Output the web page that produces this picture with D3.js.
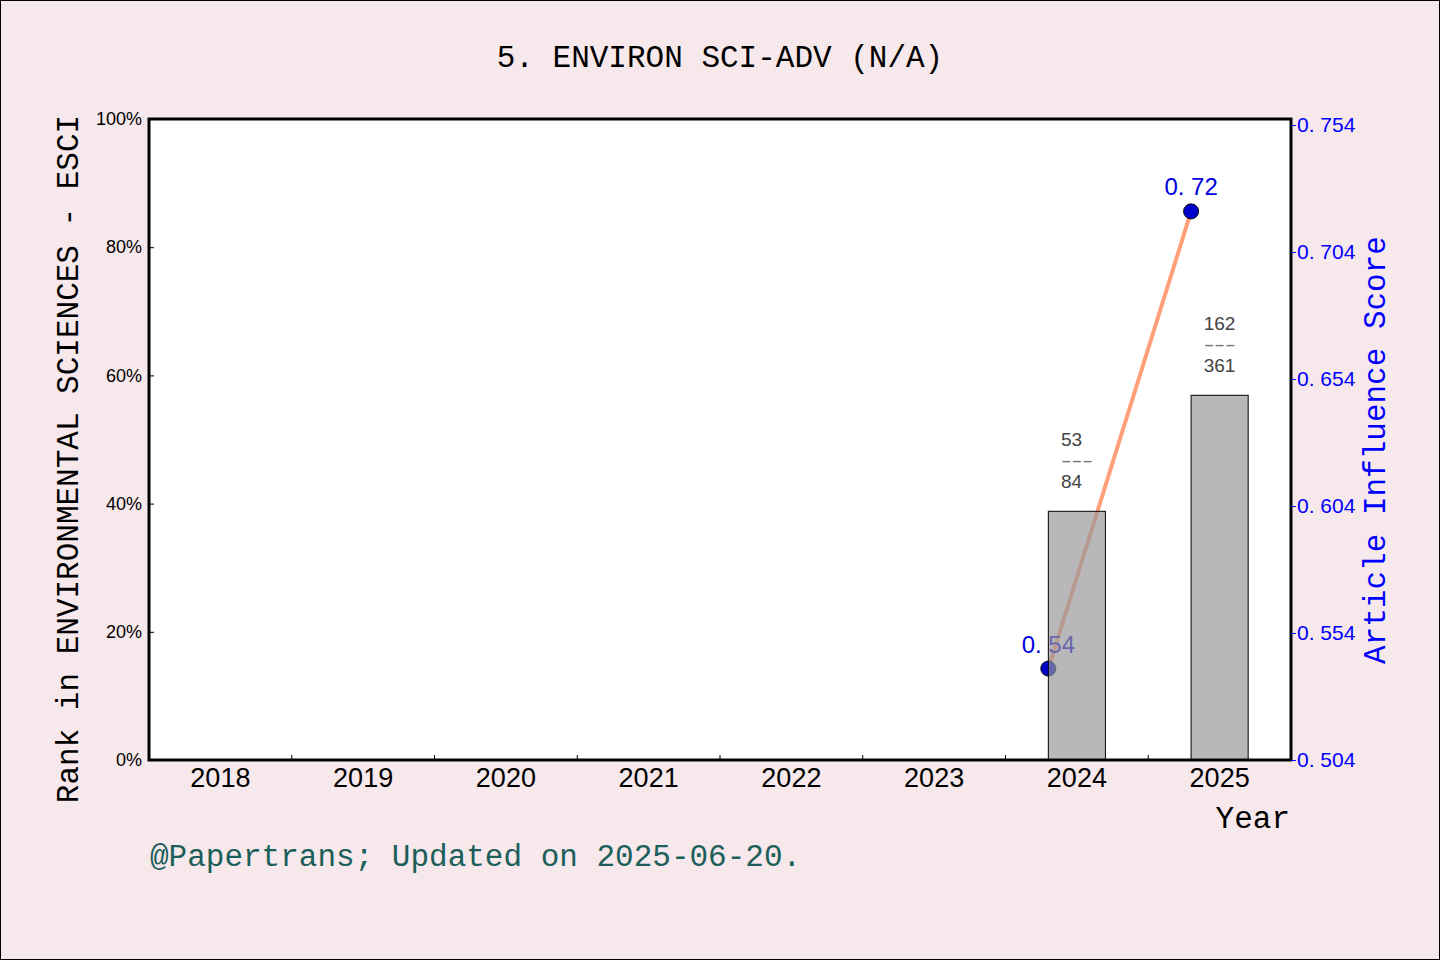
<!DOCTYPE html>
<html>
<head>
<meta charset="utf-8">
<script src="https://cdn.jsdelivr.net/npm/d3@7"></script>
<style>
  body { margin: 0; background: #f7e8eb; }
  svg { display: block; }
</style>
</head>
<body>
<div id="chart"></div>
<script>
// Chart data
var years = ["2018", "2019", "2020", "2021", "2022", "2023", "2024", "2025"];
var rankYears = ["2024", "2025"];
var rankPct = [38.8, 56.9];
var rankPos = [53, 162];
var rankTotal = [84, 361];
var aisYears = ["2024", "2025"];
var aisValues = [0.54, 0.72];
var leftTicks = [0, 20, 40, 60, 80, 100];
var rightTicks = [0.504, 0.554, 0.604, 0.654, 0.704, 0.754];

var svgWidth = 1440;
var svgHeight = 960;

// plot frame edges
var plot = { left: 149, right: 1291, top: 119, bottom: 760 };

var sans = "'Liberation Sans', Arial, sans-serif";
var mono = "'Liberation Mono', 'DejaVu Sans Mono', monospace";

var svg = d3.select("#chart")
    .append("svg")
    .attr("width", svgWidth)
    .attr("height", svgHeight);

// background + outer border
svg.append("rect")
    .attr("x", 0.5).attr("y", 0.5)
    .attr("width", svgWidth - 1).attr("height", svgHeight - 1)
    .attr("fill", "#f7e8eb")
    .attr("stroke", "#000")
    .attr("stroke-width", 1);

svg.append("rect")
    .attr("x", plot.left).attr("y", plot.top)
    .attr("width", plot.right - plot.left).attr("height", plot.bottom - plot.top)
    .attr("fill", "#fff");

// scales
var x = d3.scaleBand().domain(years).range([plot.left, plot.right]).padding(0);
var yLeft = d3.scaleLinear().domain([0, 100]).range([plot.bottom, plot.top]);
var yRight = d3.scaleLinear().domain([0.504, 0.754]).range([plot.bottom, 125]);

var bw = x.bandwidth();
var barW = bw * 0.4;

// AIS line + points (drawn under the translucent bars)
var line = d3.line()
    .x(function (d, i) { return x(aisYears[i]) + bw / 2 - barW / 2; })
    .y(function (d) { return yRight(d); });

svg.append("path")
    .datum(aisValues)
    .attr("d", line)
    .attr("fill", "none")
    .attr("stroke", "#ffa07a")
    .attr("stroke-width", 4);

svg.selectAll("circle.ais")
    .data(aisValues)
    .enter()
    .append("circle")
    .attr("class", "ais")
    .attr("cx", function (d, i) { return x(aisYears[i]) + bw / 2 - barW / 2; })
    .attr("cy", function (d) { return yRight(d); })
    .attr("r", 7.5)
    .attr("fill", "#0000cc")
    .attr("stroke", "#000")
    .attr("stroke-width", 1);

svg.selectAll("text.ais")
    .data(aisValues)
    .enter()
    .append("text")
    .attr("class", "ais")
    .attr("x", function (d, i) { return x(aisYears[i]) + bw / 2 - barW / 2; })
    .attr("y", function (d) { return yRight(d) - 16; })
    .attr("text-anchor", "middle")
    .style("font-family", sans)
    .style("font-size", "24px")
    .attr("fill", "#0000dd")
    .text(function (d) { return d3.format(".2f")(d).replace(".", ". "); });

// rank bars
svg.selectAll("rect.bar")
    .data(rankPct)
    .enter()
    .append("rect")
    .attr("class", "bar")
    .attr("x", function (d, i) { return x(rankYears[i]) + bw / 2 - barW / 2; })
    .attr("y", function (d) { return yLeft(d); })
    .attr("width", barW)
    .attr("height", function (d) { return plot.bottom - yLeft(d); })
    .attr("fill", "rgba(150,151,153,0.68)")
    .attr("stroke", "#000")
    .attr("stroke-width", 1);

// rank fraction labels above bars
rankPct.forEach(function (d, i) {
    var cx = x(rankYears[i]) + bw / 2;
    var top = yLeft(d);
    var lines = [String(rankPos[i]), "---", String(rankTotal[i])];
    lines.forEach(function (t, j) {
        var txt = svg.append("text")
            .attr("x", cx - 16)
            .attr("y", top - 23 - (2 - j) * 21)
            .style("font-family", sans)
            .style("font-size", "19px")
            .attr("fill", "#444")
            .text(t);
        if (j === 1) {
            txt.attr("textLength", 32)
                .attr("lengthAdjust", "spacingAndGlyphs")
                .attr("fill", "#777");
        }
    });
});

// frame
svg.append("rect")
    .attr("x", plot.left).attr("y", plot.top)
    .attr("width", plot.right - plot.left).attr("height", plot.bottom - plot.top)
    .attr("fill", "none")
    .attr("stroke", "#000")
    .attr("stroke-width", 3);

// left axis
var leftAxis = d3.axisLeft(yLeft)
    .tickValues(leftTicks)
    .tickSize(-5)
    .tickPadding(7)
    .tickFormat(function (d) { return d + "%"; });

var gLeft = svg.append("g")
    .attr("transform", "translate(" + plot.left + ",0)")
    .call(leftAxis);
gLeft.select(".domain").remove();
gLeft.selectAll("text")
    .style("font-family", sans)
    .style("font-size", "18px")
    .attr("fill", "#000");

// bottom axis (labels only), boundary ticks drawn separately
var bottomAxis = d3.axisBottom(x).tickSize(0).tickPadding(8);
var gBottom = svg.append("g")
    .attr("transform", "translate(0," + plot.bottom + ")")
    .call(bottomAxis);
gBottom.select(".domain").remove();
gBottom.selectAll("text")
    .style("font-family", sans)
    .style("font-size", "27px")
    .attr("fill", "#000");

svg.selectAll("line.xtick")
    .data(years.slice(1))
    .enter()
    .append("line")
    .attr("class", "xtick")
    .attr("x1", function (d) { return x(d); })
    .attr("x2", function (d) { return x(d); })
    .attr("y1", plot.bottom)
    .attr("y2", plot.bottom - 5)
    .attr("stroke", "#000")
    .attr("stroke-width", 1);

// right axis
var rightAxis = d3.axisRight(yRight)
    .tickValues(rightTicks)
    .tickSize(5)
    .tickPadding(1)
    .tickFormat(function (d) { return d3.format(".3f")(d).replace(".", ". "); });

var gRight = svg.append("g")
    .attr("transform", "translate(" + plot.right + ",0)")
    .call(rightAxis);
gRight.select(".domain").remove();
gRight.selectAll("line").attr("stroke", "#0000ff");
gRight.selectAll("text")
    .style("font-family", sans)
    .style("font-size", "21px")
    .attr("fill", "#0000ff");

// titles
svg.append("text")
    .attr("x", 720)
    .attr("y", 67)
    .attr("text-anchor", "middle")
    .style("font-family", mono)
    .style("font-size", "31px")
    .attr("fill", "#000")
    .text("5. ENVIRON SCI-ADV (N/A)");

svg.append("text")
    .attr("transform", "translate(78,459) rotate(-90)")
    .attr("text-anchor", "middle")
    .style("font-family", mono)
    .style("font-size", "31px")
    .attr("fill", "#000")
    .text("Rank in ENVIRONMENTAL SCIENCES - ESCI");

svg.append("text")
    .attr("transform", "translate(1385,450) rotate(-90)")
    .attr("text-anchor", "middle")
    .style("font-family", mono)
    .style("font-size", "31px")
    .attr("fill", "#0000ff")
    .text("Article Influence Score");

svg.append("text")
    .attr("x", 1290)
    .attr("y", 828)
    .attr("text-anchor", "end")
    .style("font-family", mono)
    .style("font-size", "31px")
    .attr("fill", "#000")
    .text("Year");

svg.append("text")
    .attr("x", 150)
    .attr("y", 866)
    .style("font-family", mono)
    .style("font-size", "31px")
    .attr("fill", "#1b5e5a")
    .text("@Papertrans; Updated on 2025-06-20.");
</script>
</body>
</html>
